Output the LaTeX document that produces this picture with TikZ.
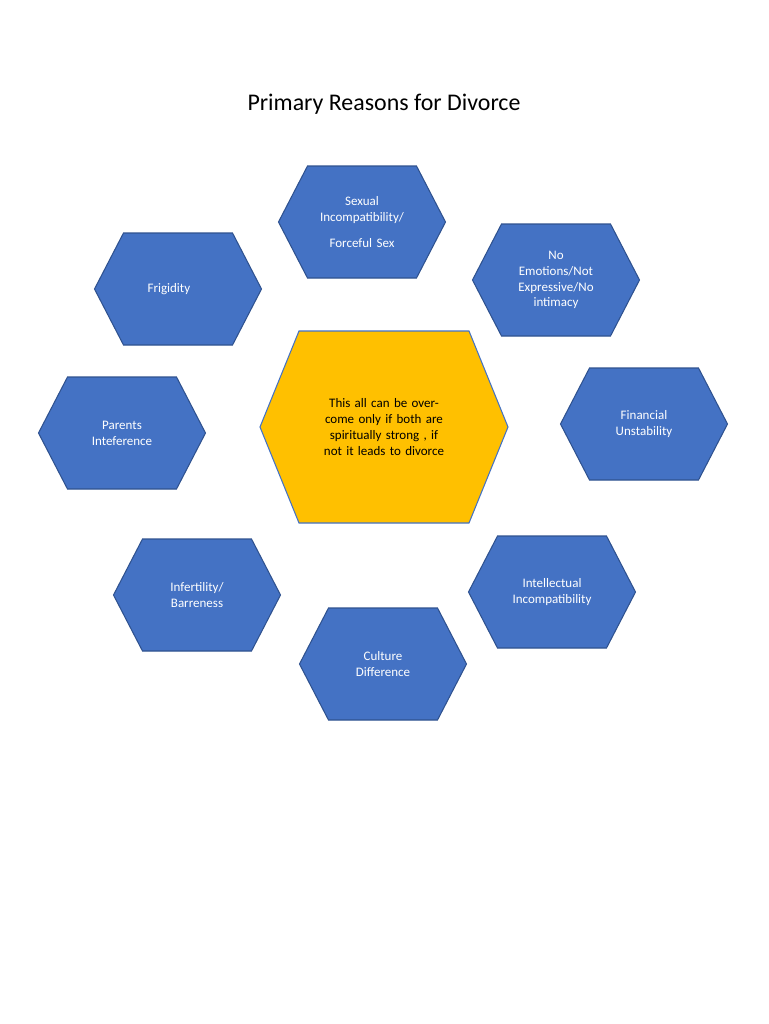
\documentclass[tikz,border=0pt]{standalone}
\usepackage{fontspec}
\setmainfont{Carlito}
\definecolor{hexblue}{HTML}{4472C4}
\definecolor{hexline}{HTML}{2F528F}
\definecolor{hexgold}{HTML}{FFC000}
\tikzstyle{hex}=[fill=hexblue,draw=hexline,line width=0.6pt]
\tikzstyle{lbl}=[text=white,font=\fontsize{7.4}{9}\selectfont,align=center,text width=2cm]
% hexagon: name, centre x, centre y, text
\newcommand{\hexcell}[4]{%
  \draw[hex] (#2-83.5,#3) -- (#2-54.5,#3-56) -- (#2+54.5,#3-56) -- (#2+83.5,#3)
    -- (#2+54.5,#3+56) -- (#2-54.5,#3+56) -- cycle;
  \node[lbl] (#1) at (#2,#3) {#4};}
\begin{document}
\begin{tikzpicture}[x=0.02cm,y=-0.02cm]
  \useasboundingbox (0,0) rectangle (768,1024);

  \node[font=\fontsize{13.6}{16}\selectfont] (title) at (384,104) {Primary Reasons for Divorce};

  \hexcell{sex}{362}{222}{Sexual\\Incompatibility/\\[6pt]Forceful Sex}
  \hexcell{frig}{178}{289}{\hspace*{-1.4em}Frigidity}
  \hexcell{emo}{556}{280}{No\\Emotions/Not\\Expressive/No\\intimacy}
  \hexcell{par}{122}{433}{Parents\\Inteference}
  \hexcell{fin}{644}{424}{Financial\\Unstability}
  \hexcell{inf}{197}{595}{Infertility/\\Barreness}
  \hexcell{int}{552}{592}{Intellectual\\Incompatibility}
  \hexcell{cul}{383}{664}{Culture\\Difference}
  \draw[fill=hexgold,draw=hexblue,line width=0.6pt]
    (260,427) -- (299,331) -- (469,331) -- (508,427) -- (469,523) -- (299,523) -- cycle;
  \node[lbl,text=black,text width=3cm] (core) at (384,427)
    {This all can be overcome only if both are spiritually strong , if not it leads to divorce};

\end{tikzpicture}
\end{document}
